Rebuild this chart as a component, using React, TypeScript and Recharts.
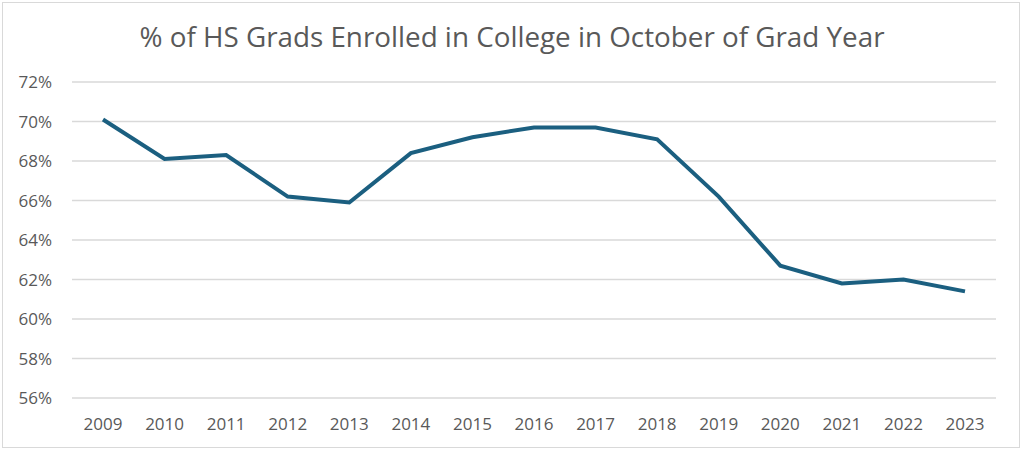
import { CartesianGrid, Line, LineChart, XAxis, YAxis } from 'recharts';

const years = ['2009', '2010', '2011', '2012', '2013', '2014', '2015', '2016', '2017', '2018', '2019', '2020', '2021', '2022', '2023'];
const enrolled = [70.1, 68.1, 68.3, 66.2, 65.9, 68.4, 69.2, 69.7, 69.7, 69.1, 66.2, 62.7, 61.8, 62.0, 61.4];
const yTicks = [56, 58, 60, 62, 64, 66, 68, 70, 72];

const data = years.map((year, i) => ({ year, value: enrolled[i] }));

const font = '"Open Sans", "Noto Sans", sans-serif';
const grey = '#595959';

export default function App() {
  return (
    <div style={{ position: 'absolute', left: 0, top: 0, width: 1024, height: 452, background: '#fff', fontFamily: font }}>
      <div
        style={{
          position: 'absolute', left: 2, top: 2, width: 1018, height: 446,
          border: '1px solid #d9d9d9', boxSizing: 'border-box',
        }}
      />
      <div
        style={{
          position: 'absolute', left: 0, top: 18, width: 1024, textAlign: 'center',
          fontSize: 27.8, lineHeight: '36px', color: grey,
        }}
      >
        % of HS Grads Enrolled in College in October of Grad Year
      </div>
      <LineChart width={1024} height={452} data={data} margin={{ top: 82, right: 28, bottom: 24, left: 0 }} style={{ position: 'absolute', left: 0, top: 0 }}>
        <CartesianGrid stroke="#d9d9d9" strokeWidth={1.5} vertical={false} />
        <XAxis
          dataKey="year"
          height={30}
          axisLine={false}
          tickLine={false}
          tickSize={0}
          tickMargin={20}
          interval={0}
          padding={{ left: 31, right: 31 }}
          tick={{ fill: grey, fontSize: 17, fontFamily: font }}
        />
        <YAxis
          width={72}
          domain={[56, 72]}
          ticks={yTicks}
          axisLine={false}
          tickLine={false}
          tickSize={0}
          tickMargin={20}
          tickFormatter={(v) => `${v}%`}
          tick={{ fill: grey, fontSize: 17, fontFamily: font }}
        />
        <Line dataKey="value" stroke="#1b5f80" strokeWidth={4} dot={false} isAnimationActive={false} />
      </LineChart>
    </div>
  );
}
